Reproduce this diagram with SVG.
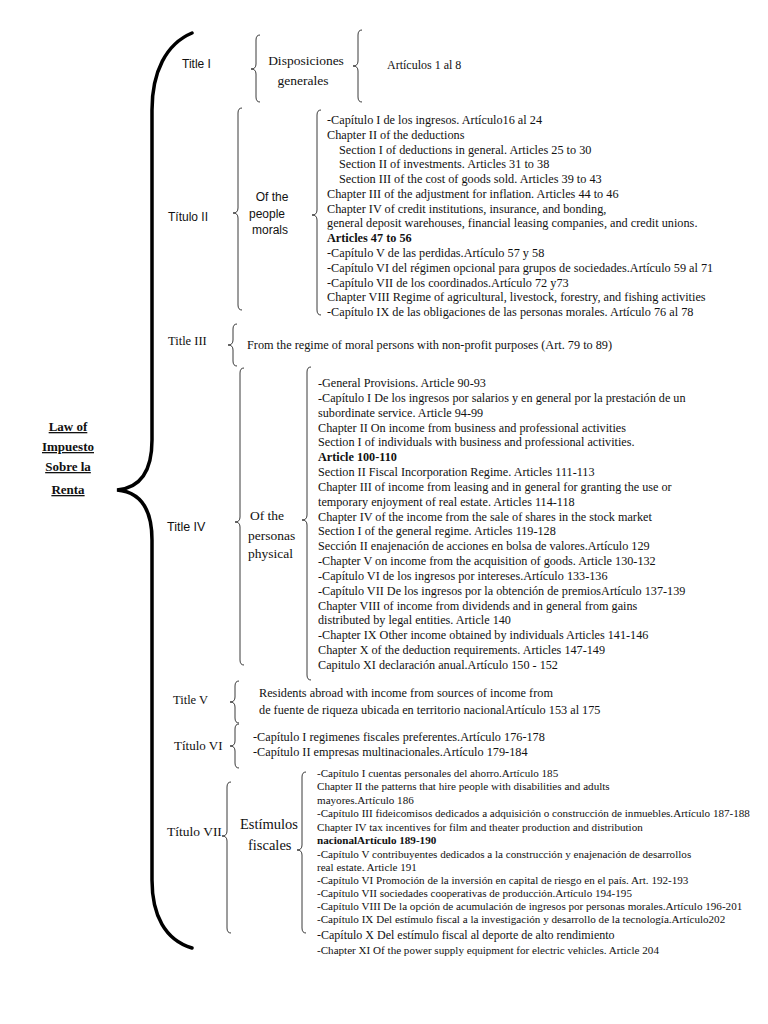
<svg xmlns="http://www.w3.org/2000/svg" width="768" height="1024" viewBox="0 0 768 1024">
<style>
.sans{font-family:"Liberation Sans",Arial,sans-serif;fill:#111}
.serif{font-family:"Liberation Serif","Times New Roman",serif;fill:#111}
.brace{fill:none;stroke:#3a3a3a;stroke-width:1}
.big{fill:none;stroke:#000;stroke-width:3.5;stroke-linecap:round}
.t2{font-size:12.25px}
.t4{font-size:12.2px}
.t7{font-size:11.1px}
.b{font-weight:bold}
</style>
<rect width="768" height="1024" fill="#fff"/>
<g id="connectors">
<path class="big" d="M192,33 C166,44 152,72 152,110 L152,440 C152,472 140,488 117,490 C140,492 152,508 152,540 L152,880 C152,915 165,940 192,948"/>
<path class="brace" d="M260,35 Q256,35 256,40 L256,64 Q256,69 251,69 Q256,69 256,74 L256,97 Q256,102 260,102"/>
<path class="brace" d="M362,30 Q358,30 358,35 L358,61 Q358,66 353,66 Q358,66 358,71 L358,97 Q358,102 362,102"/>
<path class="brace" d="M242,108 Q238,108 238,113 L238,208 Q238,213 233,213 Q238,213 238,218 L238,305 Q238,310 242,310"/>
<path class="brace" d="M321,110 Q317,110 317,115 L317,210 Q317,215 312,215 Q317,215 317,220 L317,310 Q317,315 321,315"/>
<path class="brace" d="M237,324 Q233,324 233,329 L233,340 Q233,345 228,345 Q233,345 233,350 L233,361 Q233,366 237,366"/>
<path class="brace" d="M244,368 Q240,368 240,373 L240,517 Q240,522 235,522 Q240,522 240,527 L240,660 Q240,665 244,665"/>
<path class="brace" d="M311,367 Q307,367 307,372 L307,515 Q307,520 302,520 Q307,520 307,525 L307,675 Q307,680 311,680"/>
<path class="brace" d="M239,681 Q235,681 235,686 L235,697 Q235,702 230,702 Q235,702 235,707 L235,718 Q235,723 239,723"/>
<path class="brace" d="M239,724 Q235,724 235,729 L235,741 Q235,746 230,746 Q235,746 235,751 L235,763 Q235,768 239,768"/>
<path class="brace" d="M231,782 Q227,782 227,787 L227,831 Q227,836 222,836 Q227,836 227,841 L227,928 Q227,933 231,933"/>
<path class="brace" d="M306,772 Q302,772 302,777 L302,845 Q302,850 297,850 Q302,850 302,855 L302,928 Q302,933 306,933"/>
</g>
<g id="root">
<text class="serif b" font-size="13" text-anchor="middle" text-decoration="underline"><tspan x="68" y="431">Law of</tspan><tspan x="68" y="451">Impuesto</tspan><tspan x="68" y="471">Sobre la</tspan><tspan x="68" y="494">Renta</tspan></text>
</g>
<g id="title1">
<text class="sans" font-size="12" x="182" y="68">Title I</text>
</g>
<g id="disposiciones">
<text class="serif" font-size="13.5" text-anchor="middle"><tspan x="306" y="65">Disposiciones</tspan><tspan x="303" y="85">generales</tspan></text>
</g>
<g id="articulos1">
<text class="serif" font-size="12" x="387" y="69">Artículos 1 al 8</text>
</g>
<g id="title2">
<text class="sans" font-size="12" x="168" y="221">Título II</text>
</g>
<g id="people-morals">
<text class="sans" font-size="12" text-anchor="middle"><tspan x="272" y="201">Of the</tspan><tspan x="267" y="218">people</tspan><tspan x="270" y="234">morals</tspan></text>
</g>
<g id="title2-content">
<text class="serif t2">
<tspan x="327" y="124">-Capítulo I de los ingresos. Artículo16 al 24</tspan>
<tspan x="327" y="138.8">Chapter II of the deductions</tspan>
<tspan x="339" y="153.5">Section I of deductions in general. Articles 25 to 30</tspan>
<tspan x="339" y="168.3">Section II of investments. Articles 31 to 38</tspan>
<tspan x="339" y="183.1">Section III of the cost of goods sold. Articles 39 to 43</tspan>
<tspan x="327" y="197.9">Chapter III of the adjustment for inflation. Articles 44 to 46</tspan>
<tspan x="327" y="212.6">Chapter IV of credit institutions, insurance, and bonding,</tspan>
<tspan x="327" y="227.4">general deposit warehouses, financial leasing companies, and credit unions.</tspan>
<tspan x="327" y="242.2" font-weight="bold">Articles 47 to 56</tspan>
<tspan x="327" y="256.9">-Capítulo V de las perdidas.Artículo 57 y 58</tspan>
<tspan x="327" y="271.7">-Capítulo VI del régimen opcional para grupos de sociedades.Artículo 59 al 71</tspan>
<tspan x="327" y="286.5">-Capítulo VII de los coordinados.Artículo 72 y73</tspan>
<tspan x="327" y="301.2">Chapter VIII Regime of agricultural, livestock, forestry, and fishing activities</tspan>
<tspan x="327" y="316">-Capítulo IX de las obligaciones de las personas morales. Artículo 76 al 78</tspan>
</text>
</g>
<g id="title3">
<text class="serif" font-size="12.5" x="168" y="345">Title III</text>
</g>
<g id="title3-content">
<text class="serif" font-size="12.25" x="247" y="349">From the regime of moral persons with non-profit purposes (Art. 79 to 89)</text>
</g>
<g id="title4">
<text class="sans" font-size="12.5" x="167" y="531">Title IV</text>
</g>
<g id="personas-physical">
<text class="serif" font-size="13.5"><tspan x="250" y="520">Of the</tspan><tspan x="248" y="540">personas</tspan><tspan x="248" y="558">physical</tspan></text>
</g>
<g id="title4-content">
<text class="serif t4">
<tspan x="318" y="387">-General Provisions. Article 90-93</tspan>
<tspan x="318" y="401.8">-Capítulo I De los ingresos por salarios y en general por la prestación de un</tspan>
<tspan x="318" y="416.7">subordinate service. Article 94-99</tspan>
<tspan x="318" y="431.5">Chapter II On income from business and professional activities</tspan>
<tspan x="318" y="446.4">Section I of individuals with business and professional activities.</tspan>
<tspan x="318" y="461.2" font-weight="bold">Article 100-110</tspan>
<tspan x="318" y="476">Section II Fiscal Incorporation Regime. Articles 111-113</tspan>
<tspan x="318" y="490.9">Chapter III of income from leasing and in general for granting the use or</tspan>
<tspan x="318" y="505.7">temporary enjoyment of real estate. Articles 114-118</tspan>
<tspan x="318" y="520.6">Chapter IV of the income from the sale of shares in the stock market</tspan>
<tspan x="318" y="535.4">Section I of the general regime. Articles 119-128</tspan>
<tspan x="318" y="550.2">Sección II enajenación de acciones en bolsa de valores.Artículo 129</tspan>
<tspan x="318" y="565.1">-Chapter V on income from the acquisition of goods. Article 130-132</tspan>
<tspan x="318" y="579.9">-Capítulo VI de los ingresos por intereses.Artículo 133-136</tspan>
<tspan x="318" y="594.8">-Capítulo VII De los ingresos por la obtención de premiosArtículo 137-139</tspan>
<tspan x="318" y="609.6">Chapter VIII of income from dividends and in general from gains</tspan>
<tspan x="318" y="624.4">distributed by legal entities. Article 140</tspan>
<tspan x="318" y="639.3">-Chapter IX Other income obtained by individuals Articles 141-146</tspan>
<tspan x="318" y="654.1">Chapter X of the deduction requirements. Articles 147-149</tspan>
<tspan x="318" y="669">Capitulo XI declaración anual.Artículo 150 - 152</tspan>
</text>
</g>
<g id="title5">
<text class="serif" font-size="12.5" x="173" y="704">Title V</text>
</g>
<g id="title5-content">
<text class="serif" font-size="12.25"><tspan x="259" y="697">Residents abroad with income from sources of income from</tspan><tspan x="259" y="714">de fuente de riqueza ubicada en territorio nacionalArtículo 153 al 175</tspan></text>
</g>
<g id="title6">
<text class="serif" font-size="13" x="174" y="750">Título VI</text>
</g>
<g id="title6-content">
<text class="serif" font-size="12.25"><tspan x="253" y="741">-Capítulo I regimenes fiscales preferentes.Artículo 176-178</tspan><tspan x="253" y="756">-Capítulo II empresas multinacionales.Artículo 179-184</tspan></text>
</g>
<g id="title7">
<text class="serif" font-size="13.5" x="167" y="836">Título VII</text>
</g>
<g id="estimulos">
<text class="serif" font-size="14.5"><tspan x="240" y="829">Estímulos</tspan><tspan x="248" y="850">fiscales</tspan></text>
</g>
<g id="title7-content">
<text class="serif t7">
<tspan x="317" y="776.5">-Capítulo I cuentas personales del ahorro.Artículo 185</tspan>
<tspan x="317" y="790">Chapter II the patterns that hire people with disabilities and adults</tspan>
<tspan x="317" y="803.5">mayores.Artículo 186</tspan>
<tspan x="317" y="817">-Capítulo III fideicomisos dedicados a adquisición o construcción de inmuebles.Artículo 187-188</tspan>
<tspan x="317" y="830.5">Chapter IV tax incentives for film and theater production and distribution</tspan>
<tspan x="317" y="844" font-weight="bold">nacionalArtículo 189-190</tspan>
<tspan x="317" y="857.5">-Capítulo V contribuyentes dedicados a la construcción y enajenación de desarrollos</tspan>
<tspan x="317" y="870.5">real estate. Article 191</tspan>
<tspan x="317" y="883.5">-Capítulo VI Promoción de la inversión en capital de riesgo en el país. Art. 192-193</tspan>
<tspan x="317" y="896.5">-Capítulo VII sociedades cooperativas de producción.Artículo 194-195</tspan>
<tspan x="317" y="909.5">-Capítulo VIII De la opción de acumulación de ingresos por personas morales.Artículo 196-201</tspan>
<tspan x="317" y="922.5">-Capítulo IX Del estímulo fiscal a la investigación y desarrollo de la tecnología.Artículo202</tspan>
<tspan x="317" y="939" font-size="12">-Capítulo X Del estímulo fiscal al deporte de alto rendimiento</tspan>
<tspan x="317" y="954">-Chapter XI Of the power supply equipment for electric vehicles. Article 204</tspan>
</text>
</g>
</svg>
